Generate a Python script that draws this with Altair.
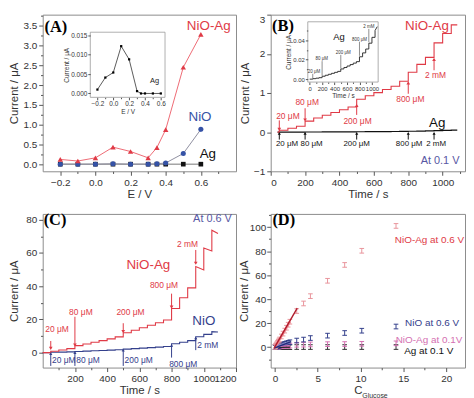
import altair as alt
import pandas as pd

SANS = "Liberation Sans"
SERIF = "Liberation Serif"
RED = "#e03a46"
RED_LINE = "#ee6a74"
BLUE = "#3552a6"
NAVY = "#34408c"
PURPLE = "#5757a3"
PINK = "#d46fb1"
AXC = "#333333"
FRAME = "#8c8c8c"

W1, W2, H1, H2 = 195, 196, 158, 155

# ---------------- Panel A data ----------------
A_E = [-0.2, -0.1, 0.0, 0.1, 0.2, 0.3, 0.35, 0.4, 0.5, 0.6]
A_NIOAG = [0.12, 0.08, 0.16, 0.43, 0.32, 0.16, 0.42, 0.875, 2.45, 3.28]
A_NIO = [0.0, 0.0, 0.0, 0.01, 0.0, 0.0, 0.01, 0.03, 0.27, 0.88]
A_AG = [0.0, 0.0, 0.0, 0.0, 0.0, 0.0, 0.0, 0.0, 0.0, 0.0]
A_INSET_AG = [0.0010, 0.0041, 0.0054, 0.0122, 0.0088, 0.0006, 0.0, 0.0, 0.0, 0.0]
A_X_TICKS = [-0.2, -0.1, 0.0, 0.1, 0.2, 0.3, 0.4, 0.5, 0.6, 0.7]
A_Y_TICKS = [0.0, 0.25, 0.5, 0.75, 1.0, 1.25, 1.5, 1.75, 2.0, 2.25, 2.5, 2.75, 3.0, 3.25, 3.5, 3.75]
AI_X_TICKS = [-0.2, -0.1, 0.0, 0.1, 0.2, 0.3, 0.4, 0.5, 0.6]
AI_Y_TICKS = [0.0, 0.005, 0.01, 0.015]
A_LABELS = ["NiO-Ag", "NiO", "Ag"]
A_LABEL_X = [0.645, 0.595, 0.64]
A_LABEL_Y = [3.50, 1.19, 0.26]
A_LABEL_C = [RED, BLUE, "#111111"]

# ---------------- Panel B data ----------------
STEP_T = [50, 100, 150, 200, 250, 300, 350, 400, 450, 500, 550, 600, 650, 700,
          750, 800, 850, 900, 950, 1000, 1050]
B_NIOAG = [0.05, 0.10, 0.15, 0.28, 0.36, 0.43, 0.50, 0.57, 0.64, 0.84, 0.93,
           1.01, 1.09, 1.17, 1.30, 1.53, 1.73, 1.91, 2.28, 2.52, 2.74]
B_AG = [0.0005, 0.001, 0.0015, 0.003, 0.004, 0.005, 0.006, 0.007, 0.008, 0.0105,
        0.012, 0.0135, 0.015, 0.0165, 0.018, 0.023, 0.027, 0.031, 0.037, 0.043, 0.050]
B_X_TICKS = [0, 100, 200, 300, 400, 500, 600, 700, 800, 900, 1000, 1100]
B_Y_TICKS = [-1, -0.5, 0, 0.5, 1, 1.5, 2, 2.5, 3]
BI_X_TICKS = [0, 100, 200, 300, 400, 500, 600, 700, 800, 900, 1000]
BI_Y_TICKS = [0.0, 0.01, 0.02, 0.03, 0.04, 0.05]
ARROW_T = [50, 200, 500, 800, 950]
CONC = ["20 μM", "80 μM", "200 μM", "800 μM", "2 mM"]
B_RED_TAIL = [0.30, 0.61, 0.44, 0.98, 1.58]
B_RED_HEAD = [0.07, 0.31, 0.68, 1.26, 1.86]
B_RED_LX = [100, 212, 505, 812, 958]
B_RED_LY = [0.42, 0.76, 0.28, 0.85, 1.46]
B_BLK_TAIL = [-0.19, -0.19, -0.19, -0.19, -0.19]
B_BLK_HEAD = [-0.03, -0.03, -0.03, -0.03, -0.03]
B_BLK_LX = [95, 238, 500, 805, 962]
B_BLK_LY = [-0.31, -0.31, -0.31, -0.31, -0.31]
BI_LX = [70, 195, 540, 800, 950]
BI_LY = [0.0075, 0.0205, 0.027, 0.0405, 0.0537]
BI_TAIL = [0.0055, 0.0185, 0.025, 0.0385, 0.0517]
BI_HEAD = [0.0010, 0.0035, 0.0110, 0.0240, 0.0380]

# ---------------- Panel C data ----------------
C_NIOAG_PEAK = [0.8, 1.6, 2.4, 4.2, 5.2, 6.2, 7.2, 8.3, 9.5, 12.0, 13.5, 15.0, 16.5,
                18.0, 19.6, 26.6, 33.0, 39.0, 51.8, 63.0, 73.7]
C_NIOAG_END = [0.8, 1.6, 2.4, 4.2, 5.2, 6.2, 7.2, 8.3, 9.5, 12.0, 13.5, 15.0, 16.5,
               18.0, 19.6, 26.6, 33.0, 39.0, 49.8, 61.2, 71.7]
C_NIO = [0.2, 0.3, 0.45, 0.7, 0.9, 1.1, 1.3, 1.5, 1.7, 2.1, 2.4, 2.7, 3.0, 3.3,
         3.7, 5.3, 6.2, 7.2, 9.6, 11.0, 12.6]
C_X_TICKS = [100, 200, 300, 400, 500, 600, 700, 800, 900, 1000, 1100, 1200]
C_Y_TICKS = [0, 10, 20, 30, 40, 50, 60, 70, 80]
C_RED_TAIL = [7.0, 21.6, 17.7, 35.5, 61.8]
C_RED_HEAD = [2.6, 4.6, 12.6, 27.4, 53.8]
C_RED_LX = [89, 237, 545, 753, 899]
C_RED_LY = [14.1, 24.6, 24.6, 40.5, 65.3]
C_BLU_TAIL = [-8.0, -8.0, -8.0, -3.0, 1.5]
C_BLU_HEAD = [-0.6, 0.0, 1.5, 4.3, 8.8]
C_BLU_LX = [58, 208, 508, 785, 960]
C_BLU_LY = [-4.2, -4.2, -4.2, -7.0, 4.8]

# ---------------- Panel D data ----------------
D_CONC = [0.02, 0.04, 0.06, 0.14, 0.22, 0.30, 0.38, 0.46, 0.54, 0.74, 0.94, 1.14,
          1.34, 1.54, 1.74, 2.54, 3.34, 4.14, 6.14, 8.14, 10.14, 14.14]
D_NIOAG06 = [0.3, 0.5, 0.8, 1.7, 2.6, 3.6, 4.5, 5.5, 6.4, 8.9, 11.3, 13.8, 16.2,
             18.7, 21.2, 30.1, 36.4, 42.5, 55.3, 68.5, 80.3, 101.0]
D_NIO06 = [0.1, 0.15, 0.2, 0.4, 0.6, 0.8, 1.0, 1.2, 1.4, 1.9, 2.3, 2.8, 3.2, 3.6,
           4.1, 5.5, 6.3, 7.6, 9.6, 11.8, 13.7, 17.2]
D_NIOAG01 = [0.05, 0.1, 0.1, 0.2, 0.3, 0.4, 0.5, 0.6, 0.7, 0.8, 0.9, 1.0, 1.1, 1.2,
             1.3, 2.0, 2.1, 2.3, 2.5, 2.6, 2.8, 3.2]
D_AG01 = [0.0, 0.0, 0.0, 0.0, 0.0, 0.0, 0.0, 0.0, 0.0, 0.0, 0.0, 0.0, 0.0, 0.0,
          0.0, 0.1, 0.1, 0.1, 0.1, 0.1, 0.1, 0.1]
D_FIT_X = [-0.1, 2.6]
D_FIT_NIOAG = [-0.8, 32.5]
D_FIT_NIO_X = [-0.1, 1.9]
D_FIT_NIO = [-0.8, 4.6]
D_X_TICKS = [0, 2.5, 5, 7.5, 10, 12.5, 15, 17.5, 20]
D_Y_TICKS = [-10, 0, 10, 20, 30, 40, 50, 60, 70, 80, 90, 100, 110]
D_LABELS = ["NiO-Ag at 0.6 V", "NiO at 0.6 V", "NiO-Ag at 0.1V", "Ag at 0.1 V"]
D_LABEL_X = [14.0, 15.2, 14.1, 15.1]
D_LABEL_Y = [89.0, 20.5, 6.3, -3.3]
D_LABEL_C = [RED, NAVY, PINK, "#111111"]


def stair(start, times, peaks, ends, stop):
    ts, ys = [start], [0.0]
    prev = 0.0
    for t, p, e in zip(times, peaks, ends):
        ts += [t, t]
        ys += [prev, p]
        prev = e
    ts.append(stop)
    ys.append(prev)
    return pd.DataFrame({"x": ts, "y": ys, "o": list(range(len(ts)))})


def axis(values, step, fmt, title, size=4, lsize=10, tsize=11.5, **kw):
    test = f"abs(datum.value/{step} - round(datum.value/{step})) < 0.001"
    return alt.Axis(values=values, format=fmt, title=title,
                    labelExpr=f"({test}) ? datum.label : ''",
                    tickSize={"condition": {"test": test, "value": size},
                              "value": round(size * 0.55, 2)},
                    labelFontSize=lsize, titleFontSize=tsize, **kw)


def enc(dom, ax, rng=None, field="x", ch="x"):
    if rng is None:
        sc = alt.Scale(domain=dom, nice=False, zero=False)
    else:
        sc = alt.Scale(domain=dom, range=rng, nice=False, zero=False)
    if ch == "x":
        return alt.X(f"{field}:Q", scale=sc, axis=ax)
    return alt.Y(f"{field}:Q", scale=sc, axis=ax)


def texts(df, X, Y, size, align="center", font=SANS, weight="normal"):
    return alt.Chart(df).mark_text(font=font, fontSize=size, align=align,
                                   fontWeight=weight, baseline="middle").encode(
        x=X, y=Y, text="t:N", color=alt.Color("c:N", scale=None))


def arrows(xs, tails, heads, color, X, Y, down=True, size=14, width=1.0):
    df = pd.DataFrame({"x": xs, "y": tails, "y2": heads})
    rule = alt.Chart(df).mark_rule(color=color, strokeWidth=width).encode(
        x=X, y=Y, y2=alt.Y2("y2:Q"))
    hd = pd.DataFrame({"x": xs, "y": heads})
    head = alt.Chart(hd).mark_point(shape="triangle-down" if down else "triangle-up",
                                    filled=True, size=size, color=color,
                                    opacity=1).encode(x=X, y=Y)
    return [rule, head]


def letter(txt, x, y, X, Y):
    df = pd.DataFrame({"x": [x], "y": [y], "t": [txt], "c": ["#000000"]})
    return texts(df, X, Y, 16.5, align="left", font=SERIF, weight="bold")


inset_ax = dict(labelPadding=1, titlePadding=1, zindex=1, labelColor=AXC,
                titleColor=AXC, tickColor="#555")

# ================= Panel A =================
AX_DOM, AY_DOM = [-0.3, 0.8], [-0.18, 3.78]
AX = enc(AX_DOM, axis(A_X_TICKS, 0.2, ".1f", "E / V", titlePadding=1))
AY = enc(AY_DOM, axis(A_Y_TICKS, 0.5, ".1f", "Current / μA", titleX=-23), ch="y", field="y")
dfA = pd.DataFrame({"x": A_E * 3, "y": A_AG + A_NIO + A_NIOAG,
                    "s": ["Ag"] * 10 + ["NiO"] * 10 + ["NiO-Ag"] * 10})


def series(name, line_c, pt_c, shape, size):
    d = dfA[dfA.s == name]
    ln = alt.Chart(d).mark_line(color=line_c, strokeWidth=1).encode(x=AX, y=AY)
    pt = alt.Chart(d).mark_point(shape=shape, filled=True, size=size, color=pt_c,
                                 opacity=1).encode(x=AX, y=AY)
    return [ln, pt]


A_main = alt.layer(
    *series("Ag", "#777777", "#111111", "square", 22),
    *series("NiO", "#8f8fa0", BLUE, "circle", 26),
    *series("NiO-Ag", RED_LINE, RED, "triangle-up", 30),
    texts(pd.DataFrame({"x": A_LABEL_X, "y": A_LABEL_Y, "t": A_LABELS, "c": A_LABEL_C}),
          AX, AY, 13.5),
    letter("(A)", -0.29, 3.47, AX, AY),
)

AIX_DOM, AIY_DOM = [-0.29, 0.653], [-0.001, 0.0158]
AI_RX, AI_RY = [48.0, 123.4], [83.4, 17.7]
AIX = enc(AIX_DOM, axis(AI_X_TICKS, 0.2, ".1f", "E / V", size=2.5, lsize=6.5, tsize=6.5,
                        orient="bottom", offset=-(H1 - AI_RY[0]), **inset_ax), AI_RX)
AIY = enc(AIY_DOM, axis(AI_Y_TICKS, 0.005, ".3f", "Current / μA", size=2.5, lsize=6.5,
                        tsize=6.5, orient="left", offset=-AI_RX[0], **inset_ax),
          AI_RY, ch="y", field="y")
frameA = pd.DataFrame({"x": [AIX_DOM[0]], "x2": [AIX_DOM[1]], "y": [AIY_DOM[0]], "y2": [AIY_DOM[1]]})
dfAi = pd.DataFrame({"x": A_E, "y": A_INSET_AG})
A_inset = alt.layer(
    alt.Chart(frameA).mark_rect(fill="white", stroke="#9a9a9a", strokeWidth=0.8).encode(
        x=AIX, x2="x2:Q", y=AIY, y2="y2:Q"),
    alt.Chart(dfAi).mark_line(color="#333333", strokeWidth=0.8).encode(x=AIX, y=AIY),
    alt.Chart(dfAi).mark_point(shape="square", filled=True, size=5, color="#000000",
                               opacity=1).encode(x=AIX, y=AIY),
    texts(pd.DataFrame({"x": [0.52], "y": [0.0032], "t": ["Ag"], "c": ["#222222"]}),
          AIX, AIY, 7.5),
)
panelA = alt.layer(A_main, A_inset).resolve_scale(x="independent", y="independent").properties(
    width=W1, height=H1)

# ================= Panel B =================
BX_DOM, BY_DOM = [0, 1130], [-1, 3]
BX = enc(BX_DOM, axis(B_X_TICKS, 200, "d", "Time / s", titlePadding=1))
BY = enc(BY_DOM, axis(B_Y_TICKS, 1, "d", "Current / μA", titleX=-20,
                      labelBaseline={"condition": {"test": "datum.value == 3", "value": "top"},
                                     "value": "middle"}), ch="y", field="y")
dfB_red = stair(40, STEP_T, B_NIOAG, B_NIOAG, 1085)
dfB_ag = stair(40, STEP_T, B_AG, B_AG, 1085)
B_main = alt.layer(
    alt.Chart(dfB_ag).mark_line(color="#111111", strokeWidth=1.2).encode(x=BX, y=BY, order="o:Q"),
    alt.Chart(dfB_red).mark_line(color=RED, strokeWidth=1.1).encode(x=BX, y=BY, order="o:Q"),
    *arrows(ARROW_T[:2], B_RED_TAIL[:2], B_RED_HEAD[:2], RED, BX, BY, down=True),
    *arrows(ARROW_T[2:], B_RED_TAIL[2:], B_RED_HEAD[2:], RED, BX, BY, down=False),
    *arrows(ARROW_T, B_BLK_TAIL, B_BLK_HEAD, "#111111", BX, BY, down=False, size=10),
    texts(pd.DataFrame({"x": B_RED_LX, "y": B_RED_LY, "t": CONC, "c": [RED] * 5}), BX, BY, 8.5),
    texts(pd.DataFrame({"x": B_BLK_LX, "y": B_BLK_LY, "t": CONC, "c": ["#111111"] * 5}), BX, BY, 8),
    texts(pd.DataFrame({"x": [909, 968], "y": [2.72, 0.24],
                        "t": ["NiO-Ag", "Ag"], "c": [RED, "#111111"]}), BX, BY, 13.5),
    texts(pd.DataFrame({"x": [985], "y": [-0.73], "t": ["At 0.1 V"], "c": [PURPLE]}), BX, BY, 11),
    letter("(B)", 8, 2.72, BX, BY),
)
BIX_DOM, BIY_DOM = [-30, 1100], [-0.003, 0.059]
BI_RX, BI_RY = [37.4, 108.4], [68.0, 7.2]
BIX = enc(BIX_DOM, axis(BI_X_TICKS, 200, "d", "Time / s", size=2.5, lsize=6, tsize=6.5,
                        orient="bottom", offset=-(H1 - BI_RY[0]), **inset_ax), BI_RX)
BIY = enc(BIY_DOM, axis(BI_Y_TICKS, 0.02, ".2f", "Current / μA", size=2.5, lsize=6,
                        tsize=6.5, orient="left", offset=-BI_RX[0], **inset_ax),
          BI_RY, ch="y", field="y")
frameB = pd.DataFrame({"x": [BIX_DOM[0]], "x2": [BIX_DOM[1]], "y": [BIY_DOM[0]], "y2": [BIY_DOM[1]]})
dfBi = stair(0, STEP_T, B_AG, B_AG, 1085)
dfBi.loc[dfBi.index[-1], "y"] = 0.054
B_inset = alt.layer(
    alt.Chart(frameB).mark_rect(fill="white", stroke="#9a9a9a", strokeWidth=0.8).encode(
        x=BIX, x2="x2:Q", y=BIY, y2="y2:Q"),
    alt.Chart(dfBi).mark_line(color="#222222", strokeWidth=0.9).encode(x=BIX, y=BIY, order="o:Q"),
    alt.Chart(pd.DataFrame({"x": ARROW_T, "y": BI_TAIL, "y2": BI_HEAD})).mark_rule(
        color="#444444", strokeWidth=0.6).encode(x=BIX, y=BIY, y2="y2:Q"),
    texts(pd.DataFrame({"x": BI_LX, "y": BI_LY, "t": CONC, "c": ["#333333"] * 5}), BIX, BIY, 4.5),
    texts(pd.DataFrame({"x": [470], "y": [0.0437], "t": ["Ag"], "c": ["#111111"]}), BIX, BIY, 9.5),
)
panelB = alt.layer(B_main, B_inset).resolve_scale(x="independent", y="independent").properties(
    width=W2, height=H1)

# ================= Panel C =================
CX_DOM, CY_DOM = [0, 1200], [-9, 83.5]
CX = enc(CX_DOM, axis(C_X_TICKS, 200, "d", "Time / s", titlePadding=1))
CY = enc(CY_DOM, axis(C_Y_TICKS, 20, "d", "Current / μA", titleX=-23), ch="y", field="y")
dfC_red = stair(0, STEP_T, C_NIOAG_PEAK, C_NIOAG_END, 1088)
dfC_blu = stair(0, STEP_T, C_NIO, C_NIO[:-1] + [12.4], 1088)
panelC = alt.layer(
    alt.Chart(dfC_blu).mark_line(color=NAVY, strokeWidth=1.1).encode(x=CX, y=CY, order="o:Q"),
    alt.Chart(dfC_red).mark_line(color=RED, strokeWidth=1.1).encode(x=CX, y=CY, order="o:Q"),
    *arrows(ARROW_T, C_RED_TAIL, C_RED_HEAD, RED, CX, CY, down=True),
    *arrows(ARROW_T, C_BLU_TAIL, C_BLU_HEAD, NAVY, CX, CY, down=False, size=10),
    texts(pd.DataFrame({"x": C_RED_LX, "y": C_RED_LY, "t": CONC, "c": [RED] * 5}), CX, CY, 8.5),
    texts(pd.DataFrame({"x": C_BLU_LX, "y": C_BLU_LY, "t": CONC, "c": [NAVY] * 5}), CX, CY, 8.5,
          align="left"),
    texts(pd.DataFrame({"x": [656, 1000], "y": [52.6, 18.9],
                        "t": ["NiO-Ag", "NiO"], "c": [RED, NAVY]}), CX, CY, 13.5),
    texts(pd.DataFrame({"x": [1054], "y": [80.4], "t": ["At  0.6 V"], "c": [PURPLE]}), CX, CY, 11),
    letter("(C)", 6, 79.8, CX, CY),
).properties(width=W1, height=H2)

# ================= Panel D =================
DX_DOM, DY_DOM = [-0.5, 22.2], [-17, 111]
DX = enc(DX_DOM, axis(D_X_TICKS, 5, "d", "C", titleX=88, titlePadding=1))
DY = enc(DY_DOM, axis(D_Y_TICKS, 20, "d", "Current / μA", titleX=-21, labelPadding=1), ch="y", field="y")
dfD = pd.DataFrame({"x": D_CONC * 4, "y": D_NIOAG06 + D_NIO06 + D_NIOAG01 + D_AG01,
                    "s": ["a"] * 22 + ["b"] * 22 + ["c"] * 22 + ["d"] * 22})
IBEAM = "M-1,-1L1,-1M-1,1L1,1M0,-1L0,1"


def dpts(s, color, size=22):
    return alt.Chart(dfD[dfD.s == s]).mark_point(shape=IBEAM, filled=False, size=size,
                                                 color=color, strokeWidth=1, opacity=1).encode(x=DX, y=DY)


def dline(s, color, width=1.4):
    return alt.Chart(dfD[(dfD.s == s) & (dfD.x < 2)]).mark_line(color=color, strokeWidth=width).encode(x=DX, y=DY)


panelD = alt.layer(
    dpts("d", "#333333"), dpts("c", PINK), dpts("b", NAVY), dpts("a", "#e9959c"),
    dline("d", "#222222"), dline("c", PINK),
    dline("b", "#7f86c8", 2.5), dline("a", "#f08a94", 2.5),
    alt.Chart(pd.DataFrame({"x": D_FIT_NIO_X, "y": D_FIT_NIO})).mark_line(
        color="#23287a", strokeWidth=1.4).encode(x=DX, y=DY),
    alt.Chart(pd.DataFrame({"x": D_FIT_X, "y": D_FIT_NIOAG})).mark_line(
        color="#b01c2c", strokeWidth=1.4).encode(x=DX, y=DY),
    texts(pd.DataFrame({"x": D_LABEL_X, "y": D_LABEL_Y, "t": D_LABELS, "c": D_LABEL_C}),
          DX, DY, 10, align="left"),
    texts(pd.DataFrame({"x": [10.2], "y": [-40.4], "t": ["Glucose"], "c": [AXC]}),
          DX, DY, 7, align="left"),
    letter("(D)", -0.3, 105.5, DX, DY),
).properties(width=W2, height=H2)

chart = alt.concat(panelA, panelB, panelC, panelD, columns=2,
                   spacing={"row": 43, "column": 35}, bounds="flush").properties(
    padding=0
).configure_view(stroke=FRAME, strokeWidth=1).configure_axis(
    labelFont=SANS, titleFont=SANS, labelColor=AXC, titleColor=AXC, tickColor="#555555",
    domain=False, grid=False, titleFontWeight="normal", labelPadding=2, titlePadding=2,
    labelOverlap=False,
)

chart.save("out.html", embed_options={"renderer": "svg", "actions": False})
